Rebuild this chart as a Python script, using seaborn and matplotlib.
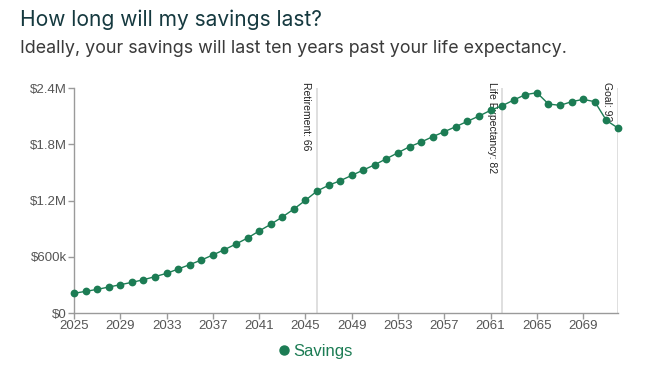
import numpy as np
import pandas as pd
import matplotlib
matplotlib.use("Agg")
import matplotlib.pyplot as plt
import seaborn as sns
from matplotlib.ticker import FuncFormatter
from matplotlib.transforms import offset_copy
from matplotlib.lines import Line2D

# savings balance per year, in millions of dollars
years = list(range(2025, 2073))
savings = [0.210, 0.231, 0.252, 0.277, 0.302, 0.327, 0.355, 0.388, 0.423, 0.469,
           0.516, 0.565, 0.619, 0.676, 0.736, 0.800, 0.875, 0.946, 1.024, 1.109,
           1.202, 1.301, 1.362, 1.411, 1.468, 1.525, 1.582, 1.646, 1.710, 1.774,
           1.824, 1.881, 1.934, 1.988, 2.045, 2.101, 2.162, 2.211, 2.272, 2.329,
           2.350, 2.229, 2.215, 2.254, 2.279, 2.254, 2.055, 1.973]
milestone_years = [2046, 2062, 2072]
milestone_labels = ["Retirement: 66", "Life Expectancy: 82", "Goal: 92"]
y_ticks = [0, 0.6, 1.2, 1.8, 2.4]
x_ticks = list(range(2025, 2070, 4))

df = pd.DataFrame({"year": years, "savings": savings})

green = "#1c7c54"
sns.set_style("white")

fig = plt.figure(figsize=(6.45, 3.79), dpi=100)
ax = fig.add_axes([0.1147, 0.1741, 0.958 - 0.1147, 0.7678 - 0.1741])

# milestone markers
for yr, lab in zip(milestone_years, milestone_labels):
    ax.axvline(yr, color="#d9d9d9", lw=1.2, zorder=1)
    tr = offset_copy(ax.get_xaxis_transform(), fig=fig, x=-4, y=4, units="points")
    ax.text(yr, 1.0, lab, transform=tr, rotation=270, ha="right", va="top",
            fontsize=7.5, color="#222222", family="Liberation Sans", zorder=3)

sns.lineplot(data=df, x="year", y="savings", color=green, lw=1, marker="o",
             markersize=5.6, markeredgewidth=0, ax=ax, zorder=4, clip_on=False)

ax.set_xlim(2025, 2072)
ax.set_ylim(0, 2.4)
ax.set_xticks(x_ticks)
ax.set_yticks(y_ticks)


def fmt_money(v, pos):
    if v == 0:
        return "$0"
    if v < 1:
        return f"${v * 1000:.0f}k"
    return f"${v:.1f}M"


ax.yaxis.set_major_formatter(FuncFormatter(fmt_money))
ax.set_xlabel("")
ax.set_ylabel("")
for side in ["top", "right"]:
    ax.spines[side].set_visible(False)
for side in ["left", "bottom"]:
    ax.spines[side].set_color("#9a9a9a")
    ax.spines[side].set_linewidth(1)
ax.tick_params(axis="both", which="major", length=4, width=1, color="#9a9a9a",
               labelcolor="#555555", labelsize=9.5, pad=1, direction="out",
               bottom=True, left=True)
for lab in ax.get_xticklabels() + ax.get_yticklabels():
    lab.set_family("Liberation Sans")

fig.text(0.031, 0.947, "How long will my savings last?", fontsize=15.1,
         color="#15393f", family="Inter", va="center")
fig.text(0.031, 0.873, "Ideally, your savings will last ten years past your life expectancy.",
         fontsize=12.9, color="#3a3a3a", family="Inter", va="center")

handle = Line2D([], [], color=green, marker="o", linestyle="none", markersize=6.5)
leg = fig.legend([handle], ["Savings"], loc="center", bbox_to_anchor=(0.480, 0.072),
                 frameon=False, handletextpad=-0.45, prop={"family": "Liberation Sans", "size": 12})
for t in leg.get_texts():
    t.set_color(green)

fig.savefig("out.png", dpi=100)
